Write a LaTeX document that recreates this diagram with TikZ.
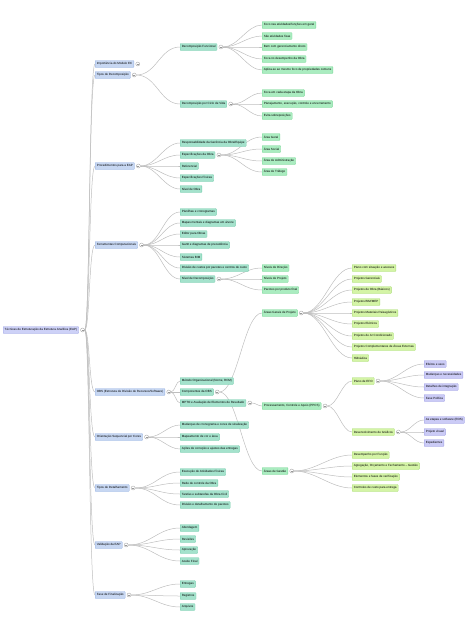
\documentclass[tikz,border=0pt]{standalone}
\usepackage{fontspec}
\setmainfont{Liberation Sans}
\usepackage{tikz}
\usetikzlibrary{positioning, backgrounds}
\definecolor{rootfill}{RGB}{205,209,247}
\definecolor{rootline}{RGB}{160,166,228}
\definecolor{bluefill}{RGB}{199,215,242}
\definecolor{blueline}{RGB}{150,178,226}
\definecolor{tealfill}{RGB}{164,226,204}
\definecolor{tealline}{RGB}{118,204,172}
\definecolor{greenfill}{RGB}{170,236,192}
\definecolor{greenline}{RGB}{120,214,150}
\definecolor{limefill}{RGB}{212,244,166}
\definecolor{limeline}{RGB}{170,220,120}
\definecolor{violfill}{RGB}{203,203,246}
\definecolor{violline}{RGB}{160,160,228}
\definecolor{linkgray}{RGB}{190,190,190}
\tikzset{
  box/.style={rectangle, anchor=west, rounded corners=0.8pt, line width=0.3pt,
    inner xsep=1.6pt, inner ysep=0.8pt, minimum height=7pt,
    font=\fontsize{3}{3.6}\selectfont},
  rootnode/.style={box, draw=rootline, fill=rootfill},
  topic/.style={box, draw=blueline, fill=bluefill},
  subtopic/.style={box, draw=tealline, fill=tealfill},
  detail/.style={box, draw=greenline, fill=greenfill},
  item/.style={box, draw=limeline, fill=limefill},
  leaf/.style={box, draw=violline, fill=violfill},
  knob/.style={circle, draw=gray!70, fill=white, inner sep=0pt,
    minimum size=4pt, line width=0.4pt,
    path picture={\draw[gray!80, line width=0.3pt]
      ([xshift=-1pt]path picture bounding box.center) --
      ([xshift=1pt]path picture bounding box.center);}},
  link/.style={draw=linkgray, line width=0.5pt}
}

\begin{document}
\begin{tikzpicture}[x=1pt, y=-1pt]
  \useasboundingbox (0,0) rectangle (474,632);

  % Root
  \node[rootnode] (root) at (3,330) {Técnicas de Estruturação da Estrutura Analítica (EAP)};

  % First level
  \node[topic] (imp) at (95,64) {Importância do Modelo EC};
  \node[topic] (tipos) at (95,75) {Tipos de Decomposição};
  \node[topic] (proc) at (95,166) {Procedimentos para a EAP};
  \node[topic] (ferr) at (95,245) {Ferramentas Computacionais};
  \node[topic] (obs) at (95,392) {OBS (Estrutura de Divisão de Recursos/Software)};
  \node[topic] (orie) at (95,437) {Orientação Sequencial por Cores};
  \node[topic] (det) at (95,488) {Tipos de Detalhamento};
  \node[topic] (val) at (95,545) {Validação da EAP};
  \node[topic] (fase) at (95,595) {Fase de Finalização};

  % Tipos de Decomposicao
  \node[subtopic] (dfun) at (180,47) {Decomposição Funcional};
  \node[subtopic] (dcic) at (180,104) {Decomposição por Ciclo de Vida};
  \node[detail] (fu1) at (262,25) {Foco nas atividades/funções em geral};
  \node[detail] (fu2) at (262,36) {São atividades fixas};
  \node[detail] (fu3) at (262,47) {Bem com gerenciamento direto};
  \node[detail] (fu4) at (262,59) {Foca no desempenho da Obra};
  \node[detail] (fu5) at (262,70) {Aplica-se ao mesmo foco de propriedades comuns};
  \node[detail] (ci1) at (262,93) {Foca em cada etapa da Obra};
  \node[detail] (ci2) at (262,104) {Planejamento, execução, controle e encerramento};
  \node[detail] (ci3) at (262,116) {Evita sobreposições};

  % Procedimentos
  \node[subtopic] (pres) at (180,143) {Responsabilidade da Gerência da Obra/Equipe};
  \node[subtopic] (pesp) at (180,155) {Especificações da Obra};
  \node[subtopic] (pref) at (180,166) {Referencial};
  \node[subtopic] (pfis) at (180,178) {Especificações Físicas};
  \node[subtopic] (pniv) at (180,189) {Nível de Obra};
  \node[detail] (ar1) at (262,137) {Área Geral};
  \node[detail] (ar2) at (262,149) {Área Social};
  \node[detail] (ar3) at (262,161) {Área de Administração};
  \node[detail] (ar4) at (262,172) {Área de Tráfego};

  % Ferramentas
  \node[subtopic] (f1) at (180,212) {Planilhas e cronogramas};
  \node[subtopic] (f2) at (180,223) {Mapas mentais e diagramas em árvore};
  \node[subtopic] (f3) at (180,234) {Editor para Obras};
  \node[subtopic] (f4) at (180,245) {Gantt e diagramas de precedência};
  \node[subtopic] (f5) at (180,257) {Sistemas BIM};
  \node[subtopic] (f6) at (180,268) {Divisão de custos por pacotes e centros de custo};
  \node[subtopic] (fniv) at (180,279) {Nível de Decomposição};
  \node[detail] (nv1) at (262,268) {Níveis de Direção};
  \node[detail] (nv2) at (262,279) {Níveis de Projeto};
  \node[detail] (nv3) at (262,290) {Pacotes por produto final};

  % OBS
  \node[subtopic] (omet) at (180,381) {Método Organizacional (Nome, RCM)};
  \node[subtopic] (ocomp) at (180,392) {Componentes da OBS};
  \node[subtopic] (ompto) at (180,403) {MPTO e Avaliação de Elementos de Resultado};
  \node[detail] (agp) at (262,313) {Áreas Gerais de Projeto};
  \node[detail] (ppc) at (262,406) {Processamento, Controle e Apoio (PPCS)};
  \node[detail] (agest) at (262,471) {Áreas de Gestão};

  \node[item] (ag1) at (352,268) {Plano com situação e acessos};
  \node[item] (ag2) at (352,279) {Projetos Gerenciais};
  \node[item] (ag3) at (352,290) {Projetos de Obra (Básicos)};
  \node[item] (ag4) at (352,302) {Projetos BIM/MEP};
  \node[item] (ag5) at (352,313) {Projetos Materiais Paisagísticos};
  \node[item] (ag6) at (352,324) {Projetos Elétricos};
  \node[item] (ag7) at (352,336) {Projetos de Ar Condicionado};
  \node[item] (ag8) at (352,347) {Projetos Complementares de Áreas Externas};
  \node[item] (ag9) at (352,358) {Hidráulica};

  \node[item] (pefo) at (352,381) {Plano de EFO};
  \node[item] (pdes) at (352,432) {Desenvolvimento de Gráficos};
  \node[leaf] (pe1) at (424,364) {Efeitos e usos};
  \node[leaf] (pe2) at (424,375) {Mudanças e necessidades};
  \node[leaf] (pe3) at (424,387) {Detalhes de integração};
  \node[leaf] (pe4) at (424,398) {Fase Política};
  \node[leaf] (de1) at (424,420) {As etapas e software (EOS)};
  \node[leaf] (de2) at (424,432) {Projeto visual};
  \node[leaf] (de3) at (424,443) {Expedientes};

  \node[item] (ge1) at (352,455) {Desempenho por Função};
  \node[item] (ge2) at (352,466) {Agregação, Orçamento e Fechamento -- Gestão};
  \node[item] (ge3) at (352,477) {Elementos e fases de verificação};
  \node[item] (ge4) at (352,488) {Controles de custo para entrega};

  % Orientacao
  \node[subtopic] (or1) at (180,425) {Mudanças de cronograma e cores de sinalização};
  \node[subtopic] (or2) at (180,437) {Mapeamento de cor e área};
  \node[subtopic] (or3) at (180,449) {Ações de correção e ajustes das entregas};

  % Detalhamento
  \node[subtopic] (dt1) at (180,472) {Execução de Atividades Físicas};
  \node[subtopic] (dt2) at (180,483) {Rede de controle da Obra};
  \node[subtopic] (dt3) at (180,494) {Tarefas e subtarefas da Obra Civil};
  \node[subtopic] (dt4) at (180,505) {Divisão e detalhamento de pacotes};

  % Validacao
  \node[subtopic] (v1) at (180,528) {Abordagem};
  \node[subtopic] (v2) at (180,539) {Revisões};
  \node[subtopic] (v3) at (180,550) {Aprovação};
  \node[subtopic] (v4) at (180,561) {Aceite Final};

  % Finalizacao
  \node[subtopic] (fi1) at (180,584) {Entregas};
  \node[subtopic] (fi2) at (180,596) {Registros};
  \node[subtopic] (fi3) at (180,607) {Arquivos};

  % Knobs
  \node[knob, right=1.5pt of root] (kroot) {};
  \node[knob, right=1.5pt of imp] (kimp) {};
  \node[knob, right=1.5pt of tipos] (ktipos) {};
  \node[knob, right=1.5pt of proc] (kproc) {};
  \node[knob, right=1.5pt of ferr] (kferr) {};
  \node[knob, right=1.5pt of obs] (kobs) {};
  \node[knob, right=1.5pt of orie] (korie) {};
  \node[knob, right=1.5pt of det] (kdet) {};
  \node[knob, right=1.5pt of val] (kval) {};
  \node[knob, right=1.5pt of fase] (kfase) {};
  \node[knob, right=1.5pt of dfun] (kdfun) {};
  \node[knob, right=1.5pt of dcic] (kdcic) {};
  \node[knob, right=1.5pt of pesp] (kpesp) {};
  \node[knob, right=1.5pt of fniv] (kfniv) {};
  \node[knob, right=1.5pt of ocomp] (kocomp) {};
  \node[knob, right=1.5pt of ompto] (kompto) {};
  \node[knob, right=1.5pt of agp] (kagp) {};
  \node[knob, right=1.5pt of ppc] (kppc) {};
  \node[knob, right=1.5pt of agest] (kagest) {};
  \node[knob, right=1.5pt of pefo] (kpefo) {};
  \node[knob, right=1.5pt of pdes] (kpdes) {};

  % Branches
  \begin{scope}[on background layer]
    \foreach \c in {imp,tipos,proc,ferr,obs,orie,det,val,fase}
      \draw[link] (kroot.east) .. controls +(5,0) and +(-6,0) .. (\c.west);
    \foreach \c in {dfun,dcic}
      \draw[link] (ktipos.east) .. controls +(20,0) and +(-20,0) .. (\c.west);
    \foreach \c in {fu1,fu2,fu3,fu4,fu5}
      \draw[link] (kdfun.east) .. controls +(15,0) and +(-15,0) .. (\c.west);
    \foreach \c in {ci1,ci2,ci3}
      \draw[link] (kdcic.east) .. controls +(12,0) and +(-12,0) .. (\c.west);
    \foreach \c in {pres,pesp,pref,pfis,pniv}
      \draw[link] (kproc.east) .. controls +(16,0) and +(-16,0) .. (\c.west);
    \foreach \c in {ar1,ar2,ar3,ar4}
      \draw[link] (kpesp.east) .. controls +(18,0) and +(-18,0) .. (\c.west);
    \foreach \c in {f1,f2,f3,f4,f5,f6,fniv}
      \draw[link] (kferr.east) .. controls +(16,0) and +(-16,0) .. (\c.west);
    \foreach \c in {nv1,nv2,nv3}
      \draw[link] (kfniv.east) .. controls +(18,0) and +(-18,0) .. (\c.west);
    \foreach \c in {omet,ocomp,ompto}
      \draw[link] (kobs.east) .. controls +(4,0) and +(-4,0) .. (\c.west);
    \foreach \c in {agp,agest}
      \draw[link] (kocomp.east) .. controls +(18,0) and +(-18,0) .. (\c.west);
    \draw[link] (kompto.east) .. controls +(4,0) and +(-4,0) .. (ppc.west);
    \foreach \c in {ag1,ag2,ag3,ag4,ag5,ag6,ag7,ag8,ag9}
      \draw[link] (kagp.east) .. controls +(20,0) and +(-20,0) .. (\c.west);
    \foreach \c in {pefo,pdes}
      \draw[link] (kppc.east) .. controls +(10,0) and +(-10,0) .. (\c.west);
    \foreach \c in {pe1,pe2,pe3,pe4}
      \draw[link] (kpefo.east) .. controls +(18,0) and +(-18,0) .. (\c.west);
    \foreach \c in {de1,de2,de3}
      \draw[link] (kpdes.east) .. controls +(10,0) and +(-10,0) .. (\c.west);
    \foreach \c in {ge1,ge2,ge3,ge4}
      \draw[link] (kagest.east) .. controls +(22,0) and +(-22,0) .. (\c.west);
    \foreach \c in {or1,or2,or3}
      \draw[link] (korie.east) .. controls +(12,0) and +(-12,0) .. (\c.west);
    \foreach \c in {dt1,dt2,dt3,dt4}
      \draw[link] (kdet.east) .. controls +(20,0) and +(-20,0) .. (\c.west);
    \foreach \c in {v1,v2,v3,v4}
      \draw[link] (kval.east) .. controls +(22,0) and +(-22,0) .. (\c.west);
    \foreach \c in {fi1,fi2,fi3}
      \draw[link] (kfase.east) .. controls +(20,0) and +(-20,0) .. (\c.west);
  \end{scope}
\end{tikzpicture}
\end{document}
